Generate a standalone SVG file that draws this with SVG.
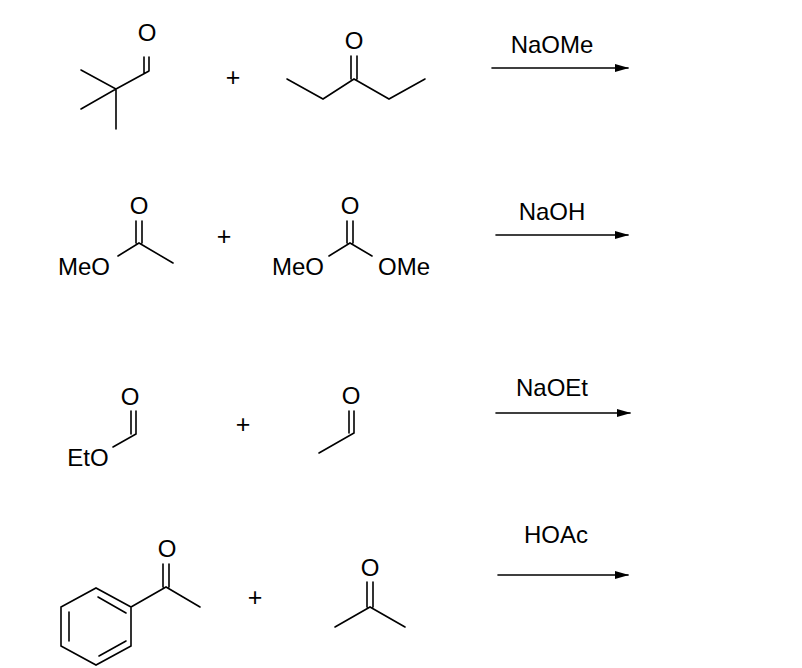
<svg xmlns="http://www.w3.org/2000/svg" width="802" height="668" viewBox="0 0 802 668">
<style>
.b{stroke:#000;stroke-width:1.6;fill:none;stroke-linecap:round}
text{font-family:"Liberation Sans",Arial,sans-serif;font-size:24px;fill:#000;text-anchor:middle}
.p{font-size:25px}
</style>
<defs><marker id="ah" markerWidth="14" markerHeight="8" refX="13" refY="4" orient="auto" markerUnits="userSpaceOnUse"><path d="M0,0 L14,4 L0,8 Z" fill="#000"/></marker></defs>
<rect width="802" height="668" fill="#fff"/>
<g id="m1a"><path class="b" d="M81,70 L116,89 L81,109 M116,89 L116,129 M116,89 L149,71 M149,71 L149,57 M144,73 L144,57"/><text x="147" y="41">O</text></g>
<g id="plus1"><text class="p" x="233" y="86">+</text></g>
<g id="m1b"><path class="b" d="M287,79 L323,99 L354,79 L389,99 L425,79 M351,79 L351,56 M357,79 L357,56"/><text x="354" y="49">O</text></g>
<g id="m2a"><text x="84" y="275">MeO</text><path class="b" d="M118,256 L139,243 L173,263 M136,243 L136,221 M142,243 L142,221"/><text x="139" y="214">O</text></g>
<g id="plus2"><text class="p" x="224" y="245">+</text></g>
<g id="m2b"><text x="298" y="275">MeO</text><path class="b" d="M329,256 L350,243 L372,256 M347,243 L347,221 M353,243 L353,221"/><text x="350" y="214">O</text><text x="404" y="275">OMe</text></g>
<g id="m3a"><text x="88" y="466">EtO</text><path class="b" d="M113,447 L136,434 L136,411 M131,434 L131,411"/><text x="130" y="405">O</text></g>
<g id="plus3"><text class="p" x="243" y="433">+</text></g>
<g id="m3b"><path class="b" d="M319,453 L354,433 L354,411 M349,433 L349,411"/><text x="351" y="404">O</text></g>
<g id="m4a"><path class="b" d="M131,607 L96,588 L61,607 L61,646 L96,665 L131,646 Z M98,597 L126,613 M69,612 L69,641 M99,656 L126,641 M131,607 L166,587 L200,607 M163,587 L163,564 M169,587 L169,564"/><text x="167" y="557">O</text></g>
<g id="plus4"><text class="p" x="255" y="606">+</text></g>
<g id="m4b"><path class="b" d="M335,627 L370,607 L405,627 M367,607 L367,582 M373,607 L373,582"/><text x="370" y="576">O</text></g>
<g id="connectors">
<line class="b" x1="492" y1="68" x2="628" y2="68" marker-end="url(#ah)"/>
<line class="b" x1="496" y1="235" x2="628" y2="235" marker-end="url(#ah)"/>
<line class="b" x1="496" y1="413" x2="630" y2="413" marker-end="url(#ah)"/>
<line class="b" x1="498" y1="575" x2="628" y2="575" marker-end="url(#ah)"/>
</g>
<g id="labels"><text x="552" y="53">NaOMe</text><text x="552" y="220">NaOH</text><text x="552" y="396">NaOEt</text><text x="556" y="543">HOAc</text></g>
</svg>
